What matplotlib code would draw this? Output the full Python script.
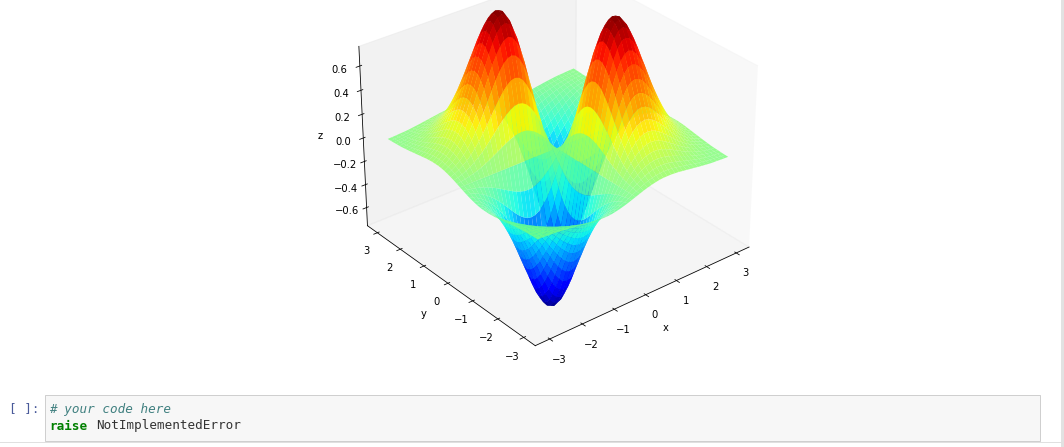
"""3D surface in a notebook output, with the code cell underneath."""

import matplotlib
matplotlib.use("Agg")
import matplotlib.pyplot as plt
import numpy as np
from matplotlib.patches import Rectangle

# Grid positions of the quadrant x >= 0, y >= 0 (the other three mirror it)
grid_pos = [0, .125, .25, .375, .5, .625, .75, .875, 1, 1.125, 1.25, 1.375, 1.5,
            1.625, 1.75, 1.875, 2, 2.125, 2.25, 2.375, 2.5, 2.625, 2.75, 2.875, 3]

# Depth of the surface in that quadrant (rows y, columns x)
depth = [
    [0, 0, 0, 0, 0, 0, 0, 0, 0, 0, 0, 0, 0, 0, 0, 0, 0, 0, 0, 0, 0, 0, 0, 0, 0],
    [0, .031, .060, .087, .109, .127, .140, .148, .150, .148, .142, .133, .121, .108, .094, .080, .067, .055, .044, .035, .027, .021, .016, .011, .008],
    [0, .060, .117, .169, .214, .249, .274, .289, .294, .290, .277, .259, .236, .210, .183, .157, .131, .108, .087, .069, .053, .041, .030, .022, .016],
    [0, .087, .169, .244, .308, .359, .396, .417, .424, .418, .400, .373, .340, .303, .265, .226, .189, .155, .125, .099, .077, .059, .044, .032, .023],
    [0, .109, .214, .308, .389, .454, .500, .526, .535, .527, .505, .471, .430, .383, .334, .285, .239, .196, .158, .125, .097, .074, .055, .041, .029],
    [0, .127, .249, .359, .454, .529, .582, .613, .624, .614, .588, .549, .501, .446, .389, .332, .278, .229, .184, .145, .113, .086, .064, .047, .034],
    [0, .140, .274, .396, .500, .582, .641, .675, .687, .676, .648, .605, .551, .491, .429, .366, .306, .252, .203, .160, .124, .095, .071, .052, .038],
    [0, .148, .289, .417, .526, .613, .675, .712, .724, .713, .683, .638, .581, .518, .452, .386, .323, .265, .214, .169, .131, .100, .075, .055, .040],
    [0, .150, .294, .424, .535, .624, .687, .724, .736, .725, .694, .648, .591, .526, .459, .392, .328, .270, .217, .172, .133, .102, .076, .056, .040],
    [0, .148, .290, .418, .527, .614, .676, .713, .725, .714, .684, .638, .582, .519, .452, .386, .323, .266, .214, .169, .131, .100, .075, .055, .040],
    [0, .142, .277, .400, .505, .588, .648, .683, .694, .684, .655, .612, .557, .497, .433, .370, .310, .254, .205, .162, .126, .096, .072, .053, .038],
    [0, .133, .259, .373, .471, .549, .605, .638, .648, .638, .612, .571, .520, .464, .404, .345, .289, .238, .191, .151, .117, .089, .067, .049, .036],
    [0, .121, .236, .340, .430, .501, .551, .581, .591, .582, .557, .520, .474, .423, .369, .315, .264, .217, .174, .138, .107, .082, .061, .045, .032],
    [0, .108, .210, .303, .383, .446, .491, .518, .526, .519, .497, .464, .423, .377, .329, .281, .235, .193, .155, .123, .095, .073, .054, .040, .029],
    [0, .094, .183, .265, .334, .389, .429, .452, .459, .452, .433, .404, .369, .329, .287, .245, .205, .168, .136, .107, .083, .063, .047, .035, .025],
    [0, .080, .157, .226, .285, .332, .366, .386, .392, .386, .370, .345, .315, .281, .245, .209, .175, .144, .116, .091, .071, .054, .041, .030, .022],
    [0, .067, .131, .189, .239, .278, .306, .323, .328, .323, .310, .289, .264, .235, .205, .175, .147, .120, .097, .077, .059, .045, .034, .025, .018],
    [0, .055, .108, .155, .196, .229, .252, .265, .270, .266, .254, .238, .217, .193, .168, .144, .120, .099, .080, .063, .049, .037, .028, .020, .015],
    [0, .044, .087, .125, .158, .184, .203, .214, .217, .214, .205, .191, .174, .155, .136, .116, .097, .080, .064, .051, .039, .030, .022, .017, .012],
    [0, .035, .069, .099, .125, .145, .160, .169, .172, .169, .162, .151, .138, .123, .107, .091, .077, .063, .051, .040, .031, .024, .018, .013, .009],
    [0, .027, .053, .077, .097, .113, .124, .131, .133, .131, .126, .117, .107, .095, .083, .071, .059, .049, .039, .031, .024, .018, .014, .010, .007],
    [0, .021, .041, .059, .074, .086, .095, .100, .102, .100, .096, .089, .082, .073, .063, .054, .045, .037, .030, .024, .018, .014, .010, .008, .006],
    [0, .016, .030, .044, .055, .064, .071, .075, .076, .075, .072, .067, .061, .054, .047, .041, .034, .028, .022, .018, .014, .010, .008, .006, .004],
    [0, .011, .022, .032, .041, .047, .052, .055, .056, .055, .053, .049, .045, .040, .035, .030, .025, .020, .017, .013, .010, .008, .006, .004, .003],
    [0, .008, .016, .023, .029, .034, .038, .040, .040, .040, .038, .036, .032, .029, .025, .022, .018, .015, .012, .009, .007, .006, .004, .003, .002],
]
# The peaks rise above the z axis range, about 1.1 at the top
depth_scale = 1.5
z_limits = (-0.76, 0.76)

code_comment = "# your code here"
code_keyword = "raise"
code_name = "NotImplementedError"

W, H = 1064, 447
fig = plt.figure(figsize=(W / 72, H / 72), dpi=72)

pos = np.array(grid_pos, dtype=float)
axis_vals = np.concatenate((-pos[:0:-1], pos))
q = np.array(depth) * depth_scale
# rows y < 0 first, then y >= 0; z is positive where x and y differ in sign
lower = np.hstack((-q[:0:-1, :0:-1], q[:0:-1, :]))
upper = np.hstack((q[:, :0:-1], -q))
Z = np.vstack((lower, upper))
X, Y = np.meshgrid(axis_vals, axis_vals)

# Colour per facet; flat parts stay slightly see-through, the steep ones nearly opaque
Z_face = (Z[:-1, :-1] + Z[1:, :-1] + Z[:-1, 1:] + Z[1:, 1:]) / 4
colors = plt.get_cmap("jet")((Z_face + Z.max()) / (2 * Z.max()))
colors[..., 3] = np.minimum(1.0, 0.8 + 0.4 * np.abs(Z_face) / Z.max())

size = 431
ax = fig.add_axes([(551 - size / 2) / W, (H - 154 - size / 2) / H, size / W, size / H], projection="3d")
ax.patch.set_alpha(0)
ax.plot_surface(X, Y, Z, facecolors=colors, rstride=1, cstride=1, shade=False, linewidth=0, antialiased=True)
ax.set_zlim(z_limits)
ax.view_init(elev=30, azim=-129)
ax.grid(False)
ax.set_xlabel("x")
ax.set_ylabel("y")
ax.set_zlabel("z")
ax.set_xticks([-3, -2, -1, 0, 1, 2, 3])
ax.set_yticks([-3, -2, -1, 0, 1, 2, 3])
ax.set_zticks([-0.6, -0.4, -0.2, 0.0, 0.2, 0.4, 0.6])

# Notebook cell below the figure, in pixel coordinates
over = fig.add_axes([0, 0, 1, 1], zorder=5)
over.set_xlim(0, W)
over.set_ylim(H, 0)
over.axis("off")
over.add_patch(Rectangle((44.5, 394.5), 995, 46, facecolor="#f7f7f7", edgecolor="#cfcfcf", linewidth=1))
over.add_patch(Rectangle((1061, 0), 3, H, facecolor="#e2e2e2", edgecolor="none"))
over.plot([0, 1061], [441.5, 441.5], color="#e0e0e0", linewidth=1)
mono = "DejaVu Sans Mono"
over.text(9, 409, "[ ]:", family=mono, fontsize=12.6, color="#4a5a9a", va="center")
over.text(49, 409, code_comment, family=mono, fontsize=12.6, style="italic", color="#408080", va="center")
over.text(49, 426, code_keyword, family=mono, fontsize=12.6, weight="bold", color="#008000", va="center")
over.text(96, 426, code_name, family=mono, fontsize=12.6, color="#333333", va="center")

fig.savefig("out.png", dpi=72)
